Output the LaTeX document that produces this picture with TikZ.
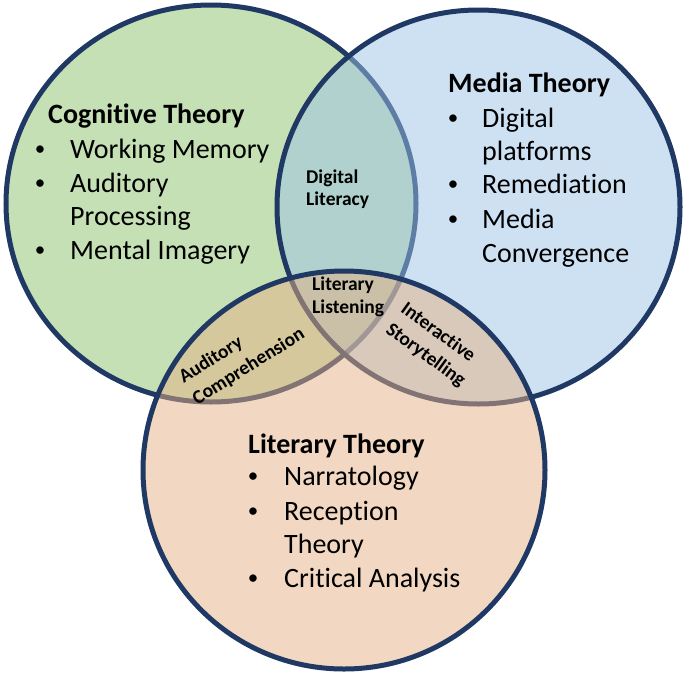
\documentclass[tikz,border=0pt]{standalone}
\usepackage{fontspec}
\setmainfont{Carlito}[Ligatures=NoCommon]
\definecolor{navy}{HTML}{1F3864}
\definecolor{cgreen}{HTML}{C5E0B4}
\definecolor{cblue}{HTML}{9DC3E6}
\definecolor{cpeach}{HTML}{E5B185}
\begin{document}
\begin{tikzpicture}[x=1pt,y=-1pt,
  circ/.style={line width=5pt, draw=navy},
  head/.style={anchor=base west, inner sep=0pt, font=\fontsize{28}{33}\selectfont\bfseries},
  itm/.style={anchor=base west, inner sep=0pt, font=\fontsize{28}{33}\selectfont},
  bul/.style={anchor=base, inner sep=0pt, yshift=3pt, font=\fontsize{21}{33}\selectfont},
  lab/.style={inner sep=0pt, font=\fontsize{19.5}{23}\selectfont\bfseries},
  rlab/.style={inner sep=0pt, align=left, font=\fontsize{19.5}{25.5}\selectfont\bfseries}]
\useasboundingbox (0,0) rectangle (685,678);
% circles
\filldraw[circ, fill=cgreen] (211,203.5) ellipse [x radius=205, y radius=198.5];
\filldraw[circ, fill=cblue, fill opacity=0.5] (478.5,207) ellipse [x radius=201.5, y radius=197];
\filldraw[circ, fill=cpeach, fill opacity=0.5] (344,470) ellipse [x radius=201, y radius=199];
% Cognitive Theory
\node[head] (cogh) at (48,123) {Cognitive Theory};
\node[bul] (cogb1) at (40,158) {•};
\node[itm] (cog1) at (70,158) {Working Memory};
\node[bul] (cogb2) at (40,192) {•};
\node[itm] (cog2) at (70,192) {Auditory};
\node[itm] (cog2b) at (70,225) {Processing};
\node[bul] (cogb3) at (40,259) {•};
\node[itm] (cog3) at (70,259) {Mental Imagery};
% Media Theory
\node[head] (medh) at (448,92) {Media Theory};
\node[bul] (medb1) at (453,127) {•};
\node[itm] (med1) at (482,127) {Digital};
\node[itm] (med1b) at (482,160) {platforms};
\node[bul] (medb2) at (453,193) {•};
\node[itm] (med2) at (482,193) {Remediation};
\node[bul] (medb3) at (453,228) {•};
\node[itm] (med3) at (482,228) {Media};
\node[itm] (med3b) at (482,262) {Convergence};
% Literary Theory
\node[head] (lith) at (248,453) {Literary Theory};
\node[bul] (litb1) at (253,485) {•};
\node[itm] (lit1) at (284,485) {Narratology};
\node[bul] (litb2) at (253,520) {•};
\node[itm] (lit2) at (284,520) {Reception};
\node[itm] (lit2b) at (284,553) {Theory};
\node[bul] (litb3) at (253,587) {•};
\node[itm] (lit3) at (284,587) {Critical Analysis};
% intersections
\node[lab, anchor=base west] (dl1) at (306,183) {Digital};
\node[lab, anchor=base west] (dl2) at (306,205) {Literacy};
\node[lab, anchor=base west] (ll1) at (312,290) {Literary};
\node[lab, anchor=base west] (ll2) at (312,313) {Listening};
\node[rlab, rotate=32] (ac) at (242,356) {Auditory\\Comprehension};
\node[rlab, rotate=-36] (is) at (433,345) {Interactive\\Storytelling};
\end{tikzpicture}
\end{document}
